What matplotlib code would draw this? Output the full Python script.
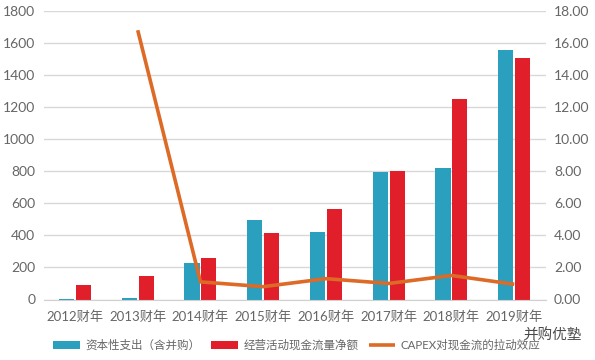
import matplotlib
matplotlib.use('Agg')
import matplotlib.pyplot as plt
import numpy as np

plt.rcParams['font.family'] = ['Lato', 'Noto Sans CJK SC', 'DejaVu Sans']

categories = ['2012财年', '2013财年', '2014财年', '2015财年', '2016财年', '2017财年', '2018财年', '2019财年']
capex = [5, 8, 225, 497, 422, 795, 820, 1555]
ocf = [88, 145, 260, 412, 565, 800, 1250, 1505]
effect = [None, 16.8, 1.1, 0.8, 1.3, 1.0, 1.5, 0.95]
left_ticks = [0, 200, 400, 600, 800, 1000, 1200, 1400, 1600, 1800]
right_ticks = [0, 2, 4, 6, 8, 10, 12, 14, 16, 18]

BLUE = '#2A9FBE'
RED = '#E01F2B'
ORANGE = '#DD6A26'
TXT = '#666666'

W, H = 595, 360
fig = plt.figure(figsize=(W / 100, H / 100), dpi=100)
ax = fig.add_axes([43.6 / W, 1 - 299.5 / H, 502 / W, 288.5 / H])
x = np.arange(len(categories))
bw = 0.24
gap = 0.03
ax.bar(x - bw / 2 - gap / 2, capex, bw, color=BLUE, label='资本性支出（含并购）', zorder=2)
ax.bar(x + bw / 2 + gap / 2, ocf, bw, color=RED, label='经营活动现金流量净额', zorder=2)
ax.set_xlim(-0.5, len(categories) - 0.5)
ax.set_ylim(0, 1800)
ax.set_yticks(left_ticks)
ax.set_xticks(x)
ax.set_xticklabels(categories)
ax.grid(axis='y', color='#D8D8D8', lw=1, zorder=0)
ax.set_axisbelow(True)
for s in ax.spines.values():
    s.set_visible(False)
ax.spines['bottom'].set_visible(True)
ax.spines['bottom'].set_color('#D0D0D0')
ax.tick_params(length=0, labelcolor=TXT)
ax.tick_params(axis='y', labelsize=10, pad=6)
ax.tick_params(axis='x', labelsize=9.5, pad=8)

ax2 = ax.twinx()
ax2.set_ylim(0, 18)
ax2.set_yticks(right_ticks)
ax2.set_yticklabels([f'{v:.2f}' for v in right_ticks])
ax2.tick_params(length=0, labelcolor=TXT, labelsize=10, pad=6)
for s in ax2.spines.values():
    s.set_visible(False)
ey = np.array([np.nan if v is None else v for v in effect], dtype=float)
ax2.plot(x, ey, color=ORANGE, lw=2.6, label='CAPEX对现金流的拉动效应', solid_capstyle='butt', zorder=3)

h1, l1 = ax.get_legend_handles_labels()
h2, l2 = ax2.get_legend_handles_labels()
fig.legend(h1 + h2, l1 + l2, loc='center', bbox_to_anchor=(297 / W, 1 - 345 / H), ncol=3, frameon=False,
           fontsize=8.3, labelcolor=TXT, handlelength=2.3, handleheight=0.7, handletextpad=0.5,
           columnspacing=0.9, borderaxespad=0, borderpad=0)

fig.text(552 / W, 1 - 335 / H, '并购优塾', ha='center', va='center', fontsize=10.5, color='#4A4A4A')
fig.savefig('out.png', dpi=100)
